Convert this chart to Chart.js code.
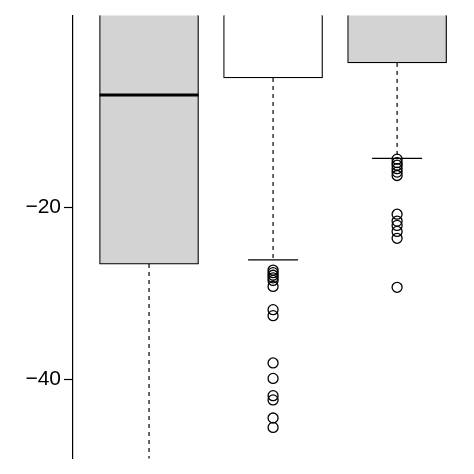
<!DOCTYPE html>
<html>
<head>
<meta charset="utf-8">
<script src="https://cdn.jsdelivr.net/npm/chart.js@4"></script>
<style>body{margin:0;background:#fff}</style>
</head>
<body>
<canvas id="box" width="474" height="474"></canvas>
<script>
// box stats per group: position, q1, median, q3, lower whisker
var positions = [1, 2, 3];
var q1 = [-26.6, -4.95, -3.2];
var medians = [-6.93, 3, 4];
var q3 = [6, 6, 6];
var lowWhisker = [-52, -26.1, -14.3];
var fills = ['#d3d3d3', '#ffffff', '#d3d3d3'];
var outliers2 = [-27.3, -27.6, -27.9, -28.2, -28.5, -29.2, -31.9, -32.6, -38.1, -39.9, -41.9, -42.4, -44.5, -45.6];
var outliers3 = [-14.4, -14.8, -15.1, -15.5, -15.9, -16.3, -20.8, -21.6, -22.1, -22.8, -23.6, -29.3];
var yTicks = [-20, -40];

var pts = [];
outliers2.forEach(function (v) { pts.push({x: 2, y: v}); });
outliers3.forEach(function (v) { pts.push({x: 3, y: v}); });

// whiskers, caps and medians drawn through the scales
var boxExtras = {
  id: 'boxExtras',
  afterDatasetsDraw: function (chart) {
    var c = chart.ctx, xs = chart.scales.x, ys = chart.scales.y;
    c.save();
    c.beginPath();
    c.rect(chart.chartArea.left, chart.chartArea.top, chart.chartArea.right - chart.chartArea.left, chart.chartArea.bottom - chart.chartArea.top);
    c.clip();
    c.strokeStyle = '#000';
    positions.forEach(function (p, i) {
      var x = xs.getPixelForValue(p);
      c.lineWidth = 1.2;
      c.setLineDash([4, 4]);
      c.beginPath();
      c.moveTo(x, ys.getPixelForValue(q1[i]));
      c.lineTo(x, ys.getPixelForValue(lowWhisker[i]));
      c.stroke();
      c.setLineDash([]);
      c.beginPath();
      c.moveTo(x - 25, ys.getPixelForValue(lowWhisker[i]));
      c.lineTo(x + 25, ys.getPixelForValue(lowWhisker[i]));
      c.stroke();
      c.lineWidth = 3;
      c.beginPath();
      c.moveTo(x - 49.5, ys.getPixelForValue(medians[i]));
      c.lineTo(x + 49.5, ys.getPixelForValue(medians[i]));
      c.stroke();
    });
    c.restore();
  }
};

new Chart(document.getElementById('box'), {
  data: {
    datasets: [{
      type: 'bar',
      data: positions.map(function (p, i) { return {x: p, y: [q1[i], q3[i]]}; }),
      backgroundColor: fills,
      borderColor: '#000',
      borderWidth: 1.2,
      borderSkipped: false,
      barThickness: 99
    }, {
      type: 'scatter',
      data: pts,
      pointStyle: 'circle',
      pointRadius: 5,
      pointBackgroundColor: 'rgba(0,0,0,0)',
      pointBorderColor: '#000',
      pointBorderWidth: 1.3
    }]
  },
  options: {
    responsive: false,
    animation: false,
    layout: {padding: 0, autoPadding: false},
    plugins: {legend: {display: false}, tooltip: {enabled: false}},
    scales: {
      x: {
        type: 'linear', min: 0.387, max: 3.62, offset: false,
        display: false
      },
      y: {
        min: -49.2, max: 2.3,
        afterFit: function (s) { s.width = 73; },
        afterBuildTicks: function (s) { s.ticks = yTicks.map(function (v) { return {value: v}; }); },
        ticks: {
          color: '#000', font: {family: 'Liberation Sans', size: 21}, padding: 3,
          callback: function (v) { return '\u2212' + Math.abs(v); }
        },
        grid: {drawOnChartArea: false, tickLength: 9, color: '#000', tickWidth: 1.2},
        border: {display: true, color: '#000', width: 1.2}
      }
    }
  },
  plugins: [boxExtras]
});
</script>
</body>
</html>
